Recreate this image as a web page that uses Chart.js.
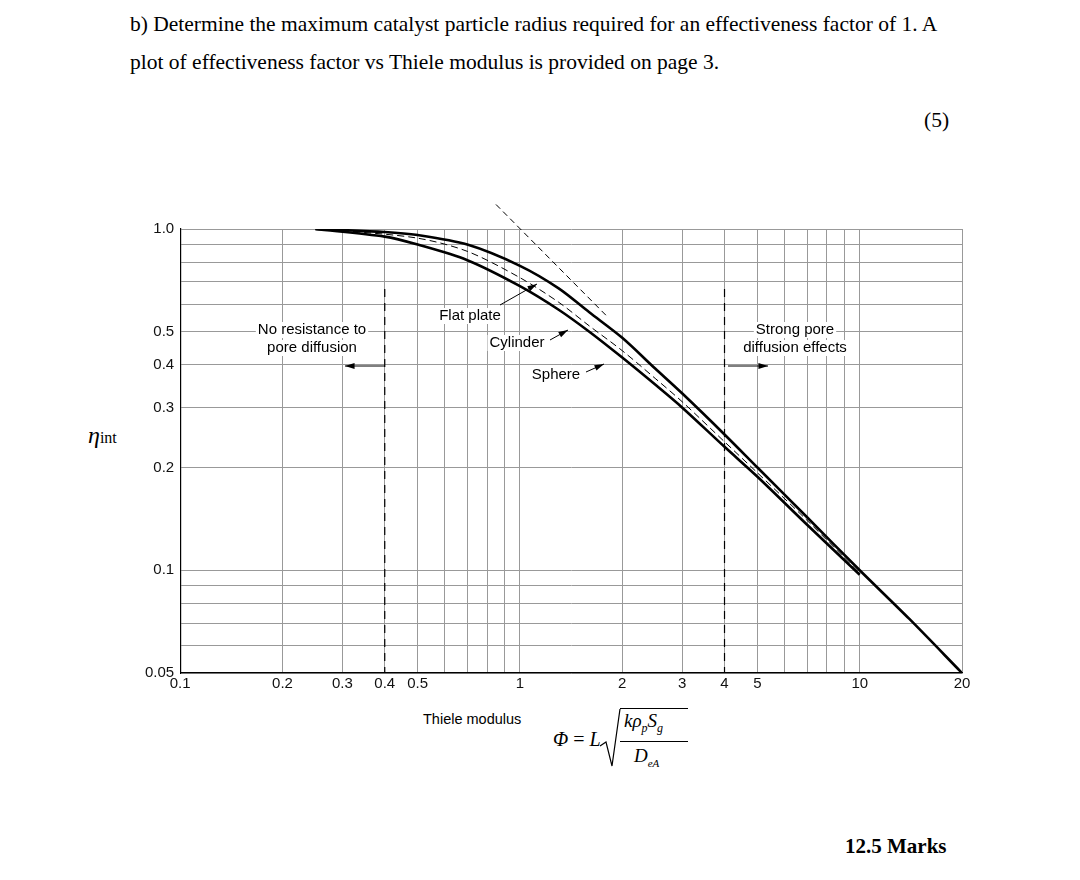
<!DOCTYPE html>
<html><head><meta charset="utf-8">
<script src="https://cdn.jsdelivr.net/npm/chart.js@4.4.0/dist/chart.umd.min.js"></script>
<style>
body{margin:0;width:1080px;height:880px;background:#fff;position:relative;font-family:"Liberation Serif","Times New Roman",serif;}
.t{position:absolute;font-size:21.5px;color:#000;}
#wrap{position:absolute;left:0;top:0;width:1080px;height:880px;}
</style></head><body>
<div class="t" style="left:130px;top:12px">b) Determine the maximum catalyst particle radius required for an effectiveness factor of 1. A</div>
<div class="t" style="left:130px;top:50px">plot of effectiveness factor vs Thiele modulus is provided on page 3.</div>
<div class="t" style="left:924px;top:108px">(5)</div>
<div class="t" style="left:88px;top:422px;font-style:italic;font-size:24px">η<span style="font-size:16px;font-style:normal">int</span></div>
<div class="t" style="left:423px;top:711px;font-family:'Liberation Sans',Arial;font-size:14.5px">Thiele modulus</div>
<div class="t" style="left:553px;top:728px;font-size:20px"><i>Φ</i> = <i>L</i></div>
<div class="t" style="left:620px;top:710px;font-size:19px;font-style:italic;padding:0 4px">kρ<sub style="font-size:12px">p</sub>S<sub style="font-size:12px">g</sub></div>
<div style="position:absolute;left:620px;top:708px;width:68px;border-top:1px solid #000"></div>
<div style="position:absolute;left:620px;top:741px;width:68px;border-top:1px solid #000"></div>
<div class="t" style="left:634px;top:745px;font-size:19px;font-style:italic">D<sub style="font-size:11px">eA</sub></div>
<svg style="position:absolute;left:598px;top:706px" width="24" height="64"><polyline points="2,40 8,36 14,60 22,3" fill="none" stroke="#000" stroke-width="1.2"/></svg>
<div class="t" style="left:845px;top:834px;font-weight:bold;font-size:21px">12.5 Marks</div>
<div id="wrap"><canvas id="c" width="1080" height="880"></canvas></div>
<script>
const phiFlat=[0.25,0.4,0.5,0.7,1,1.3,1.6,2,2.5,3,4,5,7,10,14,20];
const etaFlat=[1.0,0.98,0.96,0.90,0.78,0.67,0.57,0.48,0.39,0.33,0.25,0.2,0.143,0.1,0.072,0.05];
const phiCyl=[0.3,0.5,0.7,1,1.3,1.6,2,2.5,3,4,5,7,10];
const etaCyl=[0.99,0.94,0.86,0.72,0.61,0.52,0.44,0.365,0.312,0.238,0.193,0.14,0.098];
const phiSph=[0.25,0.4,0.5,0.7,1,1.3,1.6,2,2.5,3,4,5,7,10];
const etaSph=[1.0,0.95,0.90,0.81,0.68,0.58,0.50,0.42,0.35,0.30,0.23,0.188,0.136,0.097];
const phiAsym=[0.85,1.8];
const etaAsym=[1.18,0.556];
const xTicks=[0.1,0.2,0.3,0.4,0.5,0.6,0.7,0.8,0.9,1,2,3,4,5,6,7,8,9,10,20];
const xLabels=[0.1,0.2,0.3,0.4,0.5,1,2,3,4,5,10,20];
const yTicks=[0.05,0.06,0.07,0.08,0.09,0.1,0.2,0.3,0.4,0.5,0.6,0.7,0.8,0.9,1.0];
const yLabels={0.05:'0.05',0.1:'0.1',0.2:'0.2',0.3:'0.3',0.4:'0.4',0.5:'0.5',1:'1.0'};
const pts=(a,b)=>a.map((v,i)=>({x:v,y:b[i]}));
const SANS="'Liberation Sans', Arial, sans-serif";
const ann={id:'ann',afterDatasetsDraw(ch){
 const c=ch.ctx,x=ch.scales.x,y=ch.scales.y;
 c.save();c.strokeStyle='#000';c.lineWidth=1.2;c.setLineDash([8,6]);
 [0.4,4].forEach(v=>{const p=x.getPixelForValue(v);c.beginPath();c.moveTo(p,ch.chartArea.top+60);c.lineTo(p,ch.chartArea.bottom);c.stroke();});
 c.setLineDash([]);
 c.font='15px '+SANS;c.fillStyle='#000';c.textAlign='center';c.textBaseline='middle';
 const txt=(s,px,py)=>{const w=c.measureText(s).width;c.fillStyle='#fff';c.fillRect(px-w/2-2,py-8,w+4,16);c.fillStyle='#000';c.fillText(s,px,py);};
 txt('No resistance to',312,330);txt('pore diffusion',312,348);
 txt('Strong pore',795,330);txt('diffusion effects',795,348);
 txt('Flat plate',470,316);txt('Cylinder',517,343);txt('Sphere',556,375);
 const arrow=(x1,y1,x2,y2)=>{c.beginPath();c.moveTo(x1,y1);c.lineTo(x2,y2);c.stroke();const a=Math.atan2(y2-y1,x2-x1);c.beginPath();c.moveTo(x2,y2);c.lineTo(x2-10*Math.cos(a-0.3),y2-10*Math.sin(a-0.3));c.lineTo(x2-10*Math.cos(a+0.3),y2-10*Math.sin(a+0.3));c.closePath();c.fill();};
 c.lineWidth=1;
 arrow(385,366,345,366);arrow(728,366,768,366);
 arrow(500,305,537,284);arrow(550,340,568,330);arrow(586,372,604,364);
 c.restore();}};
new Chart(document.getElementById('c'),{type:'line',
 data:{datasets:[
  {data:pts(phiFlat,etaFlat),borderColor:'#000',borderWidth:2.6,pointRadius:0,tension:0.3},
  {data:pts(phiCyl,etaCyl),borderColor:'#000',borderWidth:1,borderDash:[7,4],pointRadius:0,tension:0.3},
  {data:pts(phiSph,etaSph),borderColor:'#000',borderWidth:2.6,pointRadius:0,tension:0.3},
  {data:pts(phiAsym,etaAsym),borderColor:'#000',borderWidth:1,borderDash:[6,4],pointRadius:0,clip:false}
 ]},
 options:{responsive:false,animation:false,layout:{padding:{left:139,right:118,top:229,bottom:185}},
  plugins:{legend:{display:false},tooltip:{enabled:false}},
  scales:{
   x:{type:'logarithmic',min:0.1,max:20,
     afterBuildTicks:s=>{s.ticks=xTicks.map(v=>({value:v}));},
     ticks:{autoSkip:false,maxRotation:0,color:'#111',font:{family:SANS,size:15},padding:2,callback:v=>xLabels.includes(v)?String(v):''},
     grid:{color:'#999',lineWidth:1,tickLength:0},border:{color:'#000',width:1.2}},
   y:{type:'logarithmic',min:0.05,max:1.0,
     afterBuildTicks:s=>{s.ticks=yTicks.map(v=>({value:v}));},
     ticks:{autoSkip:false,color:'#111',font:{family:SANS,size:15},padding:6,callback:v=>yLabels[v]||''},
     grid:{color:'#999',lineWidth:1,tickLength:0},border:{color:'#000',width:1.2}}
  }},plugins:[ann]});
</script></body></html>
